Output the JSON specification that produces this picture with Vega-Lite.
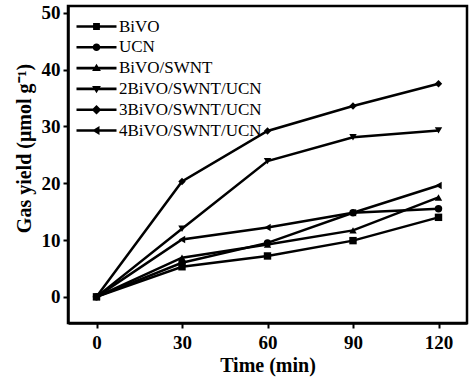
{
  "$schema": "https://vega.github.io/schema/vega-lite/v6.json",
  "autosize": {"type": "none"},
  "width": 399,
  "height": 317,
  "padding": {"left": 68, "top": 6, "right": 7, "bottom": 59},
  "background": "white",
  "config": {
    "view": {"stroke": "black", "strokeWidth": 2.5},
    "axis": {
      "labelFont": "Liberation Serif", "labelFontWeight": "bold", "labelFontSize": 19, "labelColor": "black",
      "titleFont": "Liberation Serif", "titleFontWeight": "bold", "titleFontSize": 20, "titleColor": "black",
      "domainColor": "black", "domainWidth": 2.5, "tickColor": "black", "tickWidth": 2, "tickSize": 5,
      "grid": false, "labelPadding": 3
    }
  },
  "data": {
    "values": [
      {"s": "BiVO", "t": 0, "y": 0}, {"s": "BiVO", "t": 30, "y": 5.3}, {"s": "BiVO", "t": 60, "y": 7.2}, {"s": "BiVO", "t": 90, "y": 9.9}, {"s": "BiVO", "t": 120, "y": 14.0},
      {"s": "UCN", "t": 0, "y": 0}, {"s": "UCN", "t": 30, "y": 6.0}, {"s": "UCN", "t": 60, "y": 9.5}, {"s": "UCN", "t": 90, "y": 14.8}, {"s": "UCN", "t": 120, "y": 15.5},
      {"s": "BiVO/SWNT", "t": 0, "y": 0}, {"s": "BiVO/SWNT", "t": 30, "y": 6.9}, {"s": "BiVO/SWNT", "t": 60, "y": 9.2}, {"s": "BiVO/SWNT", "t": 90, "y": 11.7}, {"s": "BiVO/SWNT", "t": 120, "y": 17.5},
      {"s": "2BiVO/SWNT/UCN", "t": 0, "y": 0}, {"s": "2BiVO/SWNT/UCN", "t": 30, "y": 12.0}, {"s": "2BiVO/SWNT/UCN", "t": 60, "y": 23.9}, {"s": "2BiVO/SWNT/UCN", "t": 90, "y": 28.1}, {"s": "2BiVO/SWNT/UCN", "t": 120, "y": 29.3},
      {"s": "3BiVO/SWNT/UCN", "t": 0, "y": 0}, {"s": "3BiVO/SWNT/UCN", "t": 30, "y": 20.3}, {"s": "3BiVO/SWNT/UCN", "t": 60, "y": 29.2}, {"s": "3BiVO/SWNT/UCN", "t": 90, "y": 33.6}, {"s": "3BiVO/SWNT/UCN", "t": 120, "y": 37.5},
      {"s": "4BiVO/SWNT/UCN", "t": 0, "y": 0}, {"s": "4BiVO/SWNT/UCN", "t": 30, "y": 10.1}, {"s": "4BiVO/SWNT/UCN", "t": 60, "y": 12.2}, {"s": "4BiVO/SWNT/UCN", "t": 90, "y": 14.8}, {"s": "4BiVO/SWNT/UCN", "t": 120, "y": 19.6}
    ]
  },
  "encoding": {
    "x": {"field": "t", "type": "quantitative", "title": "Time (min)",
      "scale": {"domain": [-10, 130], "nice": false, "zero": false},
      "axis": {"values": [0, 30, 60, 90, 120], "labelPadding": 5, "titlePadding": 3}},
    "y": {"field": "y", "type": "quantitative", "title": "Gas yield (μmol g⁻¹)",
      "scale": {"domain": [-4.6, 51.2], "nice": false, "zero": false},
      "axis": {"values": [0, 10, 20, 30, 40, 50], "titlePadding": 7, "titleY": 142}}
  },
  "layer": [
    {
      "mark": {"type": "line", "color": "black", "strokeWidth": 2.5},
      "encoding": {"detail": {"field": "s"}}
    },
    {
      "mark": {"type": "point", "filled": true, "color": "black", "opacity": 1, "size": 55},
      "encoding": {
        "shape": {"field": "s", "type": "nominal", "legend": null,
          "scale": {"domain": ["BiVO", "UCN", "BiVO/SWNT", "2BiVO/SWNT/UCN", "3BiVO/SWNT/UCN", "4BiVO/SWNT/UCN"],
            "range": ["square", "circle", "triangle-up", "triangle-down", "diamond", "triangle-left"]}}
      }
    },
    {
      "transform": [{"filter": "false"}],
      "mark": {"type": "point", "filled": true, "color": "black", "opacity": 1},
      "encoding": {
        "shape": {"field": "s", "type": "nominal",
          "scale": {"domain": ["BiVO", "UCN", "BiVO/SWNT", "2BiVO/SWNT/UCN", "3BiVO/SWNT/UCN", "4BiVO/SWNT/UCN"],
            "range": [
              "M-5,-0.32H5V0.32H-5ZM-0.85,-0.85H0.85V0.85H-0.85Z",
              "M-5,-0.32H5V0.32H-5ZM-0.95,0A0.95,0.95 0 1,1 0.95,0A0.95,0.95 0 1,1 -0.95,0Z",
              "M-5,-0.32H5V0.32H-5ZM0,-1.1L1.1,0.75H-1.1Z",
              "M-5,-0.32H5V0.32H-5ZM0,1.1L-1.1,-0.75H1.1Z",
              "M-5,-0.32H5V0.32H-5ZM0,-1.2L1.2,0L0,1.2L-1.2,0Z",
              "M-5,-0.32H5V0.32H-5ZM-1.1,0L0.75,-1.1V1.1Z"
            ]},
          "legend": {
            "title": null, "orient": "none", "legendX": 20, "legendY": 12,
            "padding": 0, "symbolOffset": 0, "symbolSize": 64, "labelOffset": 14,
            "symbolFillColor": "black",
            "labelFont": "Liberation Serif", "labelFontSize": 17, "labelColor": "black",
            "rowPadding": 2.8, "labelLimit": 300
          }
        }
      }
    }
  ],
  "resolve": {"scale": {"shape": "independent"}}
}
